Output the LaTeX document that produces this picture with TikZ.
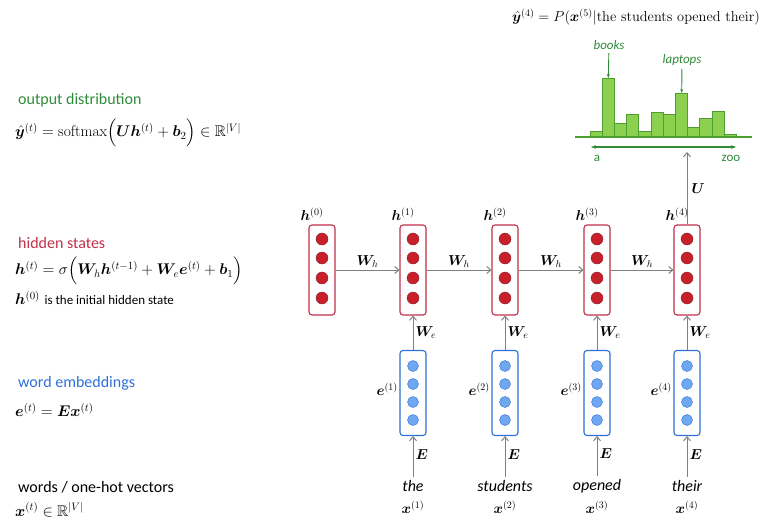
\documentclass[tikz,border=0pt]{standalone}
\usepackage{fix-cm}
\usepackage{amsmath,amssymb,bm}
\usepackage{fontspec}
\newfontfamily\carl{Carlito}
\usetikzlibrary{arrows.meta}
\definecolor{hred}{HTML}{C0304A}
\definecolor{dred}{HTML}{C82028}
\definecolor{eblue}{HTML}{2E6FD8}
\definecolor{lblue}{HTML}{6FA8F0}
\definecolor{ggreen}{HTML}{2F8A3A}
\definecolor{bar}{HTML}{8CD050}
\definecolor{barl}{HTML}{4E9E30}
\begin{document}
\begin{tikzpicture}[x=1pt,y=-1pt,font=\fontsize{14.4}{17}\selectfont,
  hbox/.style={draw=hred,line width=1.1pt,rounded corners=3pt,minimum width=26pt,minimum height=90pt,fill=white},
  ebox/.style={draw=eblue,line width=1.1pt,rounded corners=3pt,minimum width=26pt,minimum height=85pt,fill=white},
  hdot/.style={circle,draw=hred!70!black,fill=dred,minimum size=12pt,inner sep=0pt},
  edot/.style={circle,draw=eblue,fill=lblue,minimum size=11pt,inner sep=0pt},
  conn/.style={draw=gray,line width=1pt,-{Straight Barb[length=4pt,width=7pt]}},
  lab/.style={inner sep=1pt},
  form/.style={anchor=west,inner sep=1pt,font=\fontsize{15.5}{18}\selectfont},
  side/.style={anchor=west,inner sep=0pt,font=\carl\fontsize{16}{18}\selectfont},
  word/.style={font=\carl\itshape\fontsize{16}{18}\selectfont}]
\useasboundingbox (0,0) rectangle (783,531);
% hidden boxes
\foreach \i/\x in {0/322,1/413,2/505,3/597,4/687}{
  \node[hbox] (h\i) at (\x,270) {};
  \foreach \k/\y in {1/239,2/258,3/278,4/298} \node[hdot] (h\i d\k) at (\x,\y) {};
  \node[lab] (hl\i) at (\x-10,214) {$\bm h^{(\i)}$};
}
\foreach \i/\j in {0/1,1/2,2/3,3/4}{
  \draw[conn] (h\i) -- node[above,lab,yshift=1pt] (wh\j) {$\bm W_h$} (h\j);
}
\foreach \i/\x/\w in {1/413/the,2/505/students,3/597/opened,4/687/their}{
  \node[ebox] (e\i) at (\x,393) {};
  \foreach \k/\y in {1/366,2/384,3/402,4/420} \node[edot] (e\i d\k) at (\x,\y) {};
  \node[lab,anchor=east] (el\i) at (\x-14,389) {$\bm e^{(\i)}$};
  \node[word] (w\i) at (\x,486) {\w};
  \node[lab] (x\i) at (\x,507) {$\bm x^{(\i)}$};
  \draw[conn] (w\i.north) -- node[right,lab,xshift=1pt,yshift=2pt] {$\bm E$} (e\i);
  \draw[conn] (e\i) -- node[right,lab,xshift=1pt] {$\bm W_e$} (h\i);
}
% histogram
\foreach \t [count=\n from 0] in {131,78,123,114,131,112,114,93,127,118,111,134}{
  \draw[barl,fill=bar,line width=0.7pt] (590+\n*12.2,137) rectangle (590+\n*12.2+12.2,\t);
}
\coordinate (hb0) at (575,137);
\coordinate (hb1) at (752,137);
\draw[barl,line width=1.2pt] (hb0) -- (hb1);
\coordinate (aa) at (591,147); \coordinate (zz) at (736,147);
\draw[ggreen,line width=1.2pt,{Stealth[length=5pt]}-{Stealth[length=5pt]}] (aa) -- (zz);
\node[text=ggreen,font=\carl\fontsize{13}{14}\selectfont] (la) at (597,158) {a};
\node[text=ggreen,font=\carl\fontsize{13}{14}\selectfont] (lz) at (731,158) {zoo};
\node[text=ggreen,font=\carl\itshape\fontsize{13}{14}\selectfont] (books) at (609,45) {books};
\node[text=ggreen,font=\carl\itshape\fontsize{13}{14}\selectfont] (lap) at (682,60) {laptops};
\coordinate (bt) at (608.3,78); \coordinate (lt) at (681.7,93);
\draw[ggreen,line width=0.9pt,-{Stealth[length=4pt]}] (books) -- (bt);
\draw[ggreen,line width=0.9pt,-{Stealth[length=4pt]}] (lap) -- (lt);
\coordinate (hist) at (687,152);
\draw[conn] (h4) -- node[right,lab,xshift=3pt] {$\bm U$} (hist);
\node (title) at (636,17) {$\hat{\bm y}^{(4)}=P(\bm x^{(5)}|\text{the students opened their})$};
% left
\node[side,text=ggreen] (t1) at (18,100) {output distribution};
\node[form] (f1) at (14,133) {$\hat{\bm y}^{(t)}=\mathrm{softmax}\Bigl(\bm U\bm h^{(t)}+\bm b_2\Bigr)\in\mathbb R^{|V|}$};
\node[side,text=hred] (t2) at (18,243) {hidden states};
\node[form] (f2) at (14,271) {$\bm h^{(t)}=\sigma\Bigl(\bm W_h\bm h^{(t-1)}+\bm W_e\bm e^{(t)}+\bm b_1\Bigr)$};
\node[form] (f3) at (14,298) {$\bm h^{(0)}$ {\carl\fontsize{13}{14}\selectfont is the initial hidden state}};
\node[side,text=eblue] (t3) at (18,383) {word embeddings};
\node[form] (f4) at (14,410) {$\bm e^{(t)}=\bm E\bm x^{(t)}$};
\node[side] (t4) at (18,487) {words / one-hot vectors};
\node[form] (f5) at (14,510) {$\bm x^{(t)}\in\mathbb R^{|V|}$};
\end{tikzpicture}
\end{document}
